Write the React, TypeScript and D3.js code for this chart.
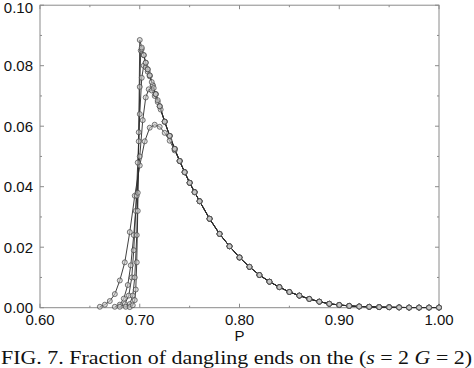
import React from "react";
import * as d3 from "d3";

// shared tail (all system sizes collapse here)
const tailX = [0.725, 0.73, 0.735, 0.74, 0.745, 0.75, 0.755, 0.76, 0.77, 0.78, 0.79, 0.8, 0.81, 0.82, 0.83, 0.84, 0.85, 0.86, 0.87, 0.88, 0.89, 0.9, 0.91, 0.92, 0.93, 0.94, 0.95, 0.96, 0.97, 0.98, 0.99, 1.0];
const tailY = [0.0615, 0.0568, 0.0525, 0.0485, 0.0448, 0.0413, 0.0382, 0.0352, 0.0294, 0.0244, 0.0203, 0.0166, 0.0135, 0.0108, 0.0086, 0.0068, 0.0052, 0.004, 0.0029, 0.002, 0.0013, 0.0009, 0.0006, 0.0004, 0.0003, 0.0002, 0.00015, 0.0001, 0.00005, 0.00005, 0.00005, 0.00005];

// heads of each curve (rising part and peak)
const head1X = [0.66, 0.665, 0.67, 0.675, 0.68, 0.685, 0.69, 0.695, 0.7, 0.705, 0.71, 0.715, 0.72];
const head1Y = [0.0003, 0.001, 0.0022, 0.0045, 0.009, 0.015, 0.025, 0.037, 0.047, 0.055, 0.0595, 0.0605, 0.0598];
const mid1X = [0.725, 0.73, 0.735, 0.74];
const mid1Y = [0.0578, 0.0552, 0.052, 0.0485];

const head2X = [0.675, 0.68, 0.684, 0.688, 0.691, 0.694, 0.697, 0.7, 0.703, 0.706, 0.709, 0.712, 0.715, 0.718, 0.721];
const head2Y = [0.0003, 0.001, 0.003, 0.0075, 0.014, 0.024, 0.037, 0.05, 0.062, 0.0695, 0.0722, 0.0718, 0.07, 0.068, 0.0655];

const head3X = [0.68, 0.685, 0.689, 0.692, 0.694, 0.696, 0.698, 0.7, 0.702, 0.704, 0.706, 0.708, 0.71, 0.713, 0.716, 0.72];
const head3Y = [0.0003, 0.0012, 0.004, 0.01, 0.019, 0.032, 0.048, 0.064, 0.076, 0.08, 0.0795, 0.078, 0.0765, 0.0735, 0.0706, 0.0666];

const head4X = [0.686, 0.69, 0.693, 0.695, 0.697, 0.698, 0.699, 0.7, 0.701, 0.702, 0.704, 0.706, 0.708, 0.71, 0.713, 0.716, 0.72];
const head4Y = [0.0003, 0.0012, 0.004, 0.01, 0.024, 0.038, 0.055, 0.073, 0.085, 0.0855, 0.0835, 0.081, 0.0788, 0.0768, 0.0736, 0.0706, 0.0666];

const head5X = [0.69, 0.693, 0.695, 0.696, 0.697, 0.698, 0.699, 0.7, 0.702, 0.704, 0.706, 0.708, 0.71, 0.712, 0.714, 0.716, 0.718, 0.72];
const head5Y = [0.0002, 0.0008, 0.0025, 0.006, 0.015, 0.032, 0.058, 0.0885, 0.086, 0.0835, 0.081, 0.0788, 0.0768, 0.0746, 0.0726, 0.0706, 0.0686, 0.0666];

const xTicks = [0.6, 0.7, 0.8, 0.9, 1.0];
const xMinor = [0.65, 0.75, 0.85, 0.95];
const yTicks = [0, 0.02, 0.04, 0.06, 0.08, 0.1];
const yMinor = [0.01, 0.03, 0.05, 0.07, 0.09];
const xLabel = "P";
const caption = "FIG. 7. Fraction of dangling ends on the (";

type Pt = [number, number];
const zip = (xs: number[], ys: number[]): Pt[] => xs.map((v, i) => [v, ys[i]]);

const series: Pt[][] = [
  [...zip(head1X, head1Y), ...zip(mid1X, mid1Y), ...zip(tailX, tailY).slice(4)],
  [...zip(head2X, head2Y), ...zip(tailX, tailY)],
  [...zip(head3X, head3Y), ...zip(tailX, tailY)],
  [...zip(head4X, head4Y), ...zip(tailX, tailY)],
  [...zip(head5X, head5Y), ...zip(tailX, tailY)],
];

export default function App() {
  const W = 474, H = 368;
  const L = 40, R = 439, T = 5.2, B = 307.7;
  const x = d3.scaleLinear().domain([0.6, 1.0]).range([L, R]);
  const y = d3.scaleLinear().domain([0, 0.1]).range([B, T]);
  const line = d3.line<Pt>().x((d) => x(d[0])).y((d) => y(d[1]));
  const axisColor = "#8a8a8a";
  const sans = "'Liberation Sans', Arial, Helvetica, sans-serif";
  const fmt = d3.format(".2f");

  return (
    <svg width={W} height={H} style={{ position: "absolute", left: 0, top: 0, background: "#fff" }}>
      <rect x={0} y={0} width={W} height={H} fill="#fff" />
      {xTicks.map((t) => (
        <g key={"xt" + t}>
          <line x1={x(t)} x2={x(t)} y1={B} y2={B - 4} stroke={axisColor} />
          <line x1={x(t)} x2={x(t)} y1={T} y2={T + 4} stroke={axisColor} />
          <text x={x(t)} y={325} textAnchor="middle" fontFamily={sans} fontSize={15} fill="#111">{fmt(t)}</text>
        </g>
      ))}
      {xMinor.map((t) => (
        <g key={"xm" + t}>
          <line x1={x(t)} x2={x(t)} y1={B} y2={B - 2} stroke={axisColor} />
          <line x1={x(t)} x2={x(t)} y1={T} y2={T + 2} stroke={axisColor} />
        </g>
      ))}
      {yTicks.map((t) => (
        <g key={"yt" + t}>
          <line x1={L} x2={L + 4} y1={y(t)} y2={y(t)} stroke={axisColor} />
          <line x1={R} x2={R - 4} y1={y(t)} y2={y(t)} stroke={axisColor} />
          <text x={33} y={Math.max(y(t), 8)} dy="0.36em" textAnchor="end" fontFamily={sans} fontSize={15} fill="#111">{fmt(t)}</text>
        </g>
      ))}
      {yMinor.map((t) => (
        <g key={"ym" + t}>
          <line x1={L} x2={L + 2} y1={y(t)} y2={y(t)} stroke={axisColor} />
          <line x1={R} x2={R - 2} y1={y(t)} y2={y(t)} stroke={axisColor} />
        </g>
      ))}
      <rect x={L} y={T} width={R - L} height={B - T} fill="none" stroke={axisColor} strokeWidth={1} />
      {series.map((s, i) => (
        <path key={"l" + i} d={line(s) || ""} fill="none" stroke="#2a2a2a" strokeWidth={0.9} />
      ))}
      {series.map((s, i) => (
        <g key={"p" + i}>
          {s.map((d, j) => (
            <circle key={j} cx={x(d[0])} cy={y(d[1])} r={2.5} fill="#c8c8c8" fillOpacity={0.6} stroke="#444" strokeWidth={0.7} />
          ))}
        </g>
      ))}
      <text x={(L + R) / 2} y={341} textAnchor="middle" fontFamily={sans} fontSize={15} fill="#111">{xLabel}</text>
      <text x={1} y={364} textLength={471} lengthAdjust="spacingAndGlyphs" fontFamily="'Liberation Serif', 'DejaVu Serif', serif" fontSize={18} fill="#111">
        {caption}
        <tspan fontStyle="italic">s</tspan>
        {" = 2 "}
        <tspan fontStyle="italic">G</tspan>
        {" = 2)"}
      </text>
    </svg>
  );
}
